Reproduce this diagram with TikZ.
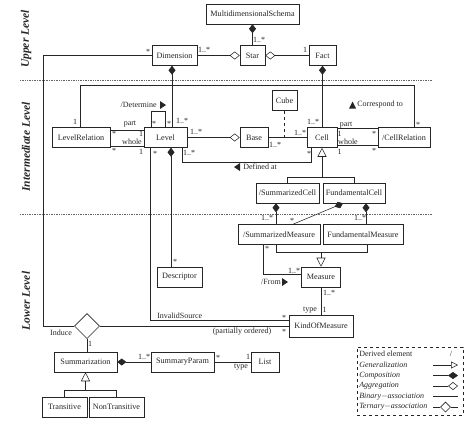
\documentclass[tikz,border=0pt]{standalone}
\usepackage{fontspec}
\setmainfont{Liberation Serif}
\usetikzlibrary{arrows.meta}
\usetikzlibrary{shapes.geometric}

\begin{document}
\begin{tikzpicture}[x=1pt, y=-1pt, line width=0.55pt, color=black!85,
    font=\fontsize{8.2}{9}\selectfont,
    cls/.style={draw, fill=white, minimum height=20, inner sep=1pt},
    lbl/.style={font=\fontsize{8}{9}\selectfont, inner sep=0pt},
    lgi/.style={lbl, anchor=west, font=\fontsize{8}{9}\selectfont\itshape},
    lvl/.style={rotate=90, font=\fontsize{11.5}{12}\selectfont\bfseries\itshape},
    comp/.style={{Diamond[length=9pt,width=7pt]}-},
    agg/.style={{Diamond[open,length=10pt,width=8pt]}-},
    gen/.style={{Triangle[open,length=9pt,width=9pt]}-},
    sep/.style={densely dotted, line width=0.7pt, black!60},
  ]
  \useasboundingbox (0,0) rectangle (474,424);

  \node[lvl] (upper) at (26,39) {Upper Level};
  \node[lvl] (inter) at (26,147) {Intermediate Level};
  \node[lvl] (lower) at (26,301) {Lower Level};
  \draw[sep] (20,80) -- (432,80);
  \draw[sep] (20,214) -- (432,214);

  % classes
  \node[cls, minimum width=93] (ms) at (252.5,14) {MultidimensionalSchema};
  \node[cls, minimum width=45] (dim) at (174.5,55.5) {Dimension};
  \node[cls, minimum width=25] (star) at (252.5,55.5) {Star};
  \node[cls, minimum width=27] (fact) at (322.5,55.5) {Fact};
  \node[cls, minimum width=58] (lrel) at (81,137.5) {LevelRelation};
  \node[cls, minimum width=43] (lev) at (165.5,137.5) {Level};
  \node[cls, minimum width=25] (cube) at (284.5,100.5) {Cube};
  \node[cls, minimum width=28] (base) at (254,137.5) {Base};
  \node[cls, minimum width=30] (cell) at (322,137.5) {Cell};
  \node[cls, minimum width=52] (crel) at (404,137.5) {/CellRelation};
  \node[cls, minimum width=63] (scell) at (287.5,193) {/SummarizedCell};
  \node[cls, minimum width=62] (fcell) at (354,193) {FundamentalCell};
  \node[cls, minimum width=82] (smeas) at (279,234.5) {/SummarizedMeasure};
  \node[cls, minimum width=80] (fmeas) at (363,234.5) {FundamentalMeasure};
  \node[cls, minimum width=39] (meas) at (321,277) {Measure};
  \node[cls, minimum width=45] (desc) at (179.5,277) {Descriptor};
  \node[cls, minimum width=64, minimum height=22] (kom) at (321,326) {KindOfMeasure};
  \node[draw, diamond, minimum width=25, minimum height=25, inner sep=0pt] (ind) at (87,326) {};
  \node[cls, minimum width=63] (summ) at (85.5,362) {Summarization};
  \node[cls, minimum width=63] (sparam) at (182.5,362) {SummaryParam};
  \node[cls, minimum width=28] (list) at (265,362) {List};
  \node[cls, minimum width=45] (trans) at (64.5,407) {Transitive};
  \node[cls, minimum width=55] (ntrans) at (116.5,407) {NonTransitive};

  % upper level
  \draw[comp] (ms.south) -- (star.north);
  \draw[agg] (star.west) -- (dim.east);
  \draw[agg] (star.east) -- (fact.west);
  \draw[comp] ([xshift=-2.5]dim.south) -- ([xshift=-2.5]dim.south |- lev.north);
  \draw[comp] (fact.south) -- (fact.south |- cell.north);
  \draw (dim.west) -- ++(-108,0) |- (ind.west);

  % intermediate level
  \draw ([xshift=-1]lrel.north) -- ++(0,-41.5) -| ([xshift=10]crel.north);
  \draw ([xshift=-14.5]lev.north) -- ++(0,-16) -| (lev.north);
  \draw ([yshift=7.5]lrel.east) -- ([yshift=7.5]lrel.east -| lev.west);
  \draw ([yshift=-8.5]lrel.east) -- ([yshift=-8.5]lrel.east -| lev.west);
  \draw[agg] (base.west) -- (lev.east);
  \draw (base.east) -- (cell.west);
  \draw[dashed] (cube.south) -- (cube.south |- base.east);
  \draw ([yshift=9]cell.east) -- ([yshift=9]cell.east -| crel.west);
  \draw ([yshift=-8]cell.east) -- ([yshift=-8]cell.east -| crel.west);
  \draw ([xshift=16.5]lev.south) -- ++(0,14.5) -| ([xshift=-10.3]cell.south);
  \draw[comp] ([xshift=5.5]lev.south) -- ([xshift=5.5]lev.south |- desc.north);
  \draw ([xshift=-14.8]lev.south) |- ([yshift=6]kom.west);
  \draw[gen] (cell.south) -- ++(0,29.5) coordinate (cg);
  \draw (scell.north) |- (cg) -| (fcell.north);

  % lower level
  \draw[comp] ([xshift=-11.5]scell.south) -- ([xshift=-11.5]scell.south |- smeas.north);
  \draw[comp] ([xshift=-11]fcell.south) -- ([xshift=14]smeas.north);
  \draw[comp] ([xshift=12]fcell.south) -- ([xshift=12]fcell.south |- fmeas.north);
  \draw[gen] (meas.north) -- ++(0,-14) coordinate (mg);
  \draw ([xshift=-3]smeas.south) |- (mg) -| ([xshift=4]fmeas.south);
  \draw ([xshift=-16]smeas.south) |- ([yshift=3]meas.west);
  \draw (meas.south) -- (kom.north);
  \draw (ind.east) -- (ind.east -| kom.west);
  \draw (ind.south) -- (ind.south |- summ.north);
  \draw[comp] (summ.east) -- (sparam.west);
  \draw (sparam.east) -- (list.west);
  \draw[gen] (summ.south) -- ++(0,18) coordinate (sg);
  \draw (trans.north) |- (sg) -| (ntrans.north);

  % multiplicities and roles
  \node[lbl] (m1) at (259,40) {1..*};
  \node[lbl] (m2) at (148,52) {*};
  \node[lbl] (m3) at (204,50) {1..*};
  \node[lbl] (m4) at (305,50) {1};
  \node[lbl] (m5) at (182,121) {1..*};
  \node[lbl] (m6) at (154,124) {*};
  \node[lbl] (m7) at (169,124) {*};
  \node[lbl] (m8) at (75,122) {1};
  \node[lbl] (p1) at (130,124) {part};
  \node[lbl] (m9) at (114,134) {*};
  \node[lbl] (m10) at (141,134) {1};
  \node[lbl] (w1) at (132,142) {whole};
  \node[lbl] (m11) at (114,151) {*};
  \node[lbl] (m12) at (141,152) {1};
  \node[lbl] (m13) at (196,132) {1..*};
  \node[lbl] (m14) at (155,154) {*};
  \node[lbl] (m15) at (189,153) {1..*};
  \node[lbl] (m16) at (175,262) {*};
  \node[lbl] (m17) at (275,145) {1..*};
  \node[lbl] (m18) at (300,133) {1..*};
  \node[lbl] (m19) at (313,122) {1..*};
  \node[lbl] (m20) at (309,154) {*};
  \node[lbl] (p2) at (346,125) {part};
  \node[lbl] (m21) at (339.5,134) {1};
  \node[lbl] (w2) at (348,142) {whole};
  \node[lbl] (m22) at (339.5,152) {1};
  \node[lbl] (m23) at (374,134) {*};
  \node[lbl] (m24) at (374,151) {*};
  \node[lbl] (m25) at (418,125) {*};
  \node[lbl] (m26) at (267,218) {1..*};
  \node[lbl] (m27) at (292,221) {*};
  \node[lbl] (m28) at (360,218) {1..*};
  \node[lbl] (m29) at (267,249) {*};
  \node[lbl] (m30) at (294,271) {1..*};
  \node[lbl] (m31) at (329,293) {1..*};
  \node[lbl] (t1) at (310,310) {type};
  \node[lbl] (m32) at (324.5,310) {1};
  \node[lbl] (m33) at (284,318) {*};
  \node[lbl] (m34) at (284,332) {*};
  \node[lbl, anchor=west] (inv) at (157,316) {InvalidSource};
  \node[lbl] (po) at (242,332) {(partially ordered)};
  \node[lbl] (induce) at (61,333) {Induce};
  \node[lbl] (m35) at (90,344) {1};
  \node[lbl] (m36) at (144,357) {1..*};
  \node[lbl] (m37) at (218,358) {*};
  \node[lbl] (m38) at (248,357) {1};
  \node[lbl] (t2) at (241,367) {type};

  % association names
  \node[lbl, anchor=east] (detm) at (157,105) {/Determine};
  \fill ([xshift=3]detm.east) ++(0,-4) -- ++(6,4) -- ++(-6,4) -- cycle;
  \node[lbl, anchor=west] (defat) at (243,167) {Defined at};
  \fill ([xshift=-3]defat.west) ++(0,-4) -- ++(-6,4) -- ++(6,4) -- cycle;
  \node[lbl, anchor=west] (corr) at (357,105) {Correspond to};
  \fill ([xshift=-1]corr.west) ++(0,3.5) -- ++(-3.5,-7) -- ++(-3.5,7) -- cycle;
  \node[lbl, anchor=east] (from) at (281,282) {/From};
  \fill ([xshift=1]from.east) ++(0,-4) -- ++(6,4) -- ++(-6,4) -- cycle;

  % legend
  \node[draw, dashed, minimum width=106, minimum height=68, inner sep=0pt] (legend) at (410,381) {};
  \node[lbl, anchor=west] (lg1) at (359,354) {Derived element};
  \node[lbl] (lgd) at (451,354) {/};
  \node[lgi] (lg2) at (359,365) {Generalization};
  \node[lgi] (lg3) at (359,375.5) {Composition};
  \node[lgi] (lg4) at (359,386) {Aggregation};
  \node[lgi] (lg5) at (359,396.5) {Binary$-$association};
  \node[lgi] (lg6) at (359,407) {Ternary$-$association};
  \draw[-{Triangle[open,length=7pt,width=7pt]}] (433,365) -- (458,365);
  \draw[-{Diamond[length=10pt,width=7pt]}] (433,375.5) -- (458,375.5);
  \draw[-{Diamond[open,length=10pt,width=8pt]}] (433,386) -- (458,386);
  \draw (433,396.5) -- (458,396.5);
  \node[draw, diamond, fill=white, minimum width=10, minimum height=10, inner sep=0pt] (lgt) at (445.5,407) {};
  \draw (433,407) -- (lgt.west) (lgt.east) -- (458,407);
\end{tikzpicture}
\end{document}
